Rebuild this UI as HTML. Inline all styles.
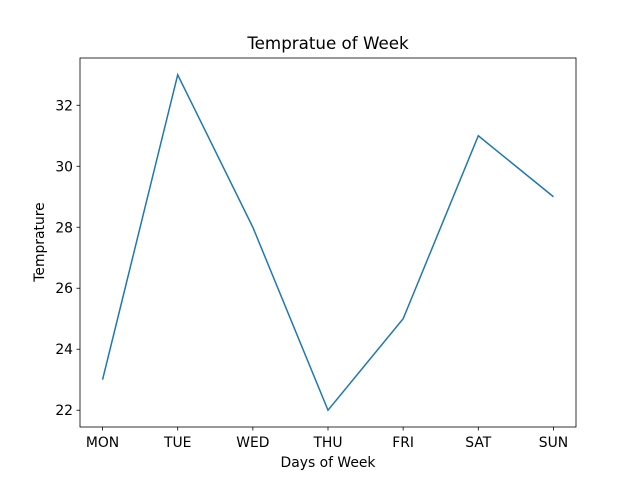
<!DOCTYPE html>
<html><head><meta charset="utf-8"><style>
body{margin:0;background:#fff;}
svg{display:block;font-family:"DejaVu Sans","Liberation Sans",sans-serif;}
</style></head><body>
<svg id="chart" width="640" height="480">
<rect width="640" height="480" fill="#fff"/>
<text x="328" y="49" text-anchor="middle" font-size="16.7">Tempratue of Week</text>
<g id="yticks"></g>
<g id="xticks"></g>
<polyline id="line" fill="none" stroke="#1f77b4" stroke-width="1.5"/>
<rect x="80" y="58" width="496" height="369" fill="none" stroke="#000" stroke-width="0.8"/>
<text x="328" y="467" text-anchor="middle" font-size="13.9">Days of Week</text>
<text transform="translate(44,242) rotate(-90)" text-anchor="middle" font-size="13.9">Temprature</text>
</svg>
<script>
const days=["MON","TUE","WED","THU","FRI","SAT","SUN"];
const temps=[23,33,28,22,25,31,29];
const yTicks=[22,24,26,28,30,32];
const NS="http://www.w3.org/2000/svg";
const L=80,R=576,T=58,B=427;
const ymin=Math.min(...temps),ymax=Math.max(...temps),ym=(ymax-ymin)*0.05;
const y0=ymin-ym,y1=ymax+ym;
const n=days.length,xm=(n-1)*0.05;
const xs=i=>L+(i+xm)/((n-1)+2*xm)*(R-L);
const ys=v=>B-(v-y0)/(y1-y0)*(B-T);
const yg=document.getElementById('yticks');
yTicks.forEach(v=>{
 const l=document.createElementNS(NS,'line');
 l.setAttribute('x1',L-3.5);l.setAttribute('x2',L);l.setAttribute('y1',ys(v));l.setAttribute('y2',ys(v));l.setAttribute('stroke','#000');l.setAttribute('stroke-width','0.8');
 
 
 yg.appendChild(l);
 const t=document.createElementNS(NS,'text');
 t.setAttribute('x',L-7);t.setAttribute('y',ys(v)+5);t.setAttribute('text-anchor','end');t.setAttribute('font-size','13.9');
 t.textContent=v;
 
 
 yg.appendChild(t);
});
const xg=document.getElementById('xticks');
days.forEach((d,i)=>{
 const l=document.createElementNS(NS,'line');
 l.setAttribute('x1',xs(i));l.setAttribute('x2',xs(i));l.setAttribute('y1',B);l.setAttribute('y2',B+3.5);l.setAttribute('stroke','#000');l.setAttribute('stroke-width','0.8');
 
 
 xg.appendChild(l);
 const t=document.createElementNS(NS,'text');
 t.setAttribute('x',xs(i));t.setAttribute('y',B+20);t.setAttribute('text-anchor','middle');t.setAttribute('font-size','13.9');
 t.textContent=d;
 
 
 xg.appendChild(t);
});
document.getElementById('line').setAttribute('points',temps.map((v,i)=>xs(i)+','+ys(v)).join(' '));
</script>
</body></html>
